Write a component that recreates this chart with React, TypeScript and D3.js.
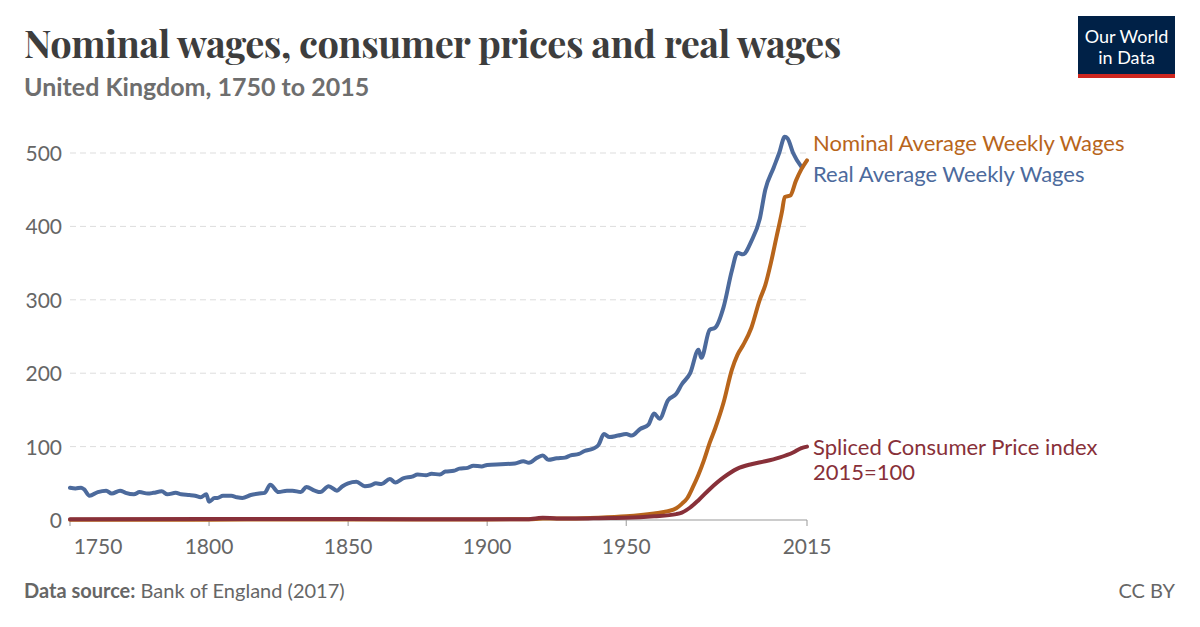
import * as d3 from "d3";

const realYears = [1750,1752,1754,1755,1757,1760,1763,1765,1768,1770,1773,1775,1778,1780,1783,1785,1788,1790,1793,1795,1797,1799,1800,1802,1803,1805,1808,1810,1812,1815,1818,1820,1822,1825,1828,1830,1833,1835,1838,1840,1843,1846,1848,1850,1853,1856,1858,1860,1862,1865,1867,1870,1873,1875,1878,1880,1883,1885,1888,1890,1893,1895,1898,1900,1905,1910,1913,1915,1918,1920,1922,1925,1928,1930,1933,1935,1938,1940,1942,1944,1947,1950,1952,1955,1958,1960,1962,1965,1968,1970,1973,1976,1977,1980,1982,1985,1988,1990,1992,1995,1998,2000,2003,2005,2007,2008,2010,2013];
const realValues = [44,43,44,42,33,38,40,36,40,37,35,38,36,37,39,35,37,35,34,33,31,35,25,30,30,33,33,31,30,34,36,37,48,38,40,40,38,45,40,38,46,40,46,50,52,46,47,50,49,56,51,57,59,62,61,63,62,66,67,70,71,74,73,75,76,77,80,78,85,88,82,84,85,88,90,94,97,102,117,113,115,117,115,124,130,145,138,163,172,185,200,232,221,259,262,290,340,364,362,380,410,450,480,500,522,520,500,481];

const nomYears = [1750,1800,1850,1900,1915,1920,1930,1940,1950,1960,1965,1968,1970,1972,1974,1976,1978,1980,1982,1985,1988,1990,1992,1995,1998,2000,2002,2004,2006,2007,2009,2011,2013,2015];
const nomValues = [0.3,0.5,0.6,0.8,1,2,2,3,5,9,12,16,22,30,45,62,82,105,125,160,205,225,238,262,300,320,350,385,420,440,442,462,478,490];

const cpiYears = [1750,1800,1850,1900,1914,1918,1920,1925,1935,1940,1950,1960,1968,1970,1973,1976,1980,1985,1990,1995,2000,2005,2010,2013,2015];
const cpiValues = [1,1.5,1.2,1,1,2.5,3,2.2,2,2.5,3,5,8,10,17,27,42,58,70,76,80,85,92,98,100];

const yTicks = [0, 100, 200, 300, 400, 500];
const xTicks = [1750, 1800, 1850, 1900, 1950, 2015];

const W = 1200, H = 627;
const x = d3.scaleLinear().domain([1750, 2015]).range([70, 807]);
const y = d3.scaleLinear().domain([0, 500]).range([520, 153]);
const sans = "Lato, 'Noto Sans', sans-serif";

const series = [
  { name: "real", years: realYears, values: realValues, color: "#4c6a9c" },
  { name: "nom", years: nomYears, values: nomValues, color: "#b8651b" },
  { name: "cpi", years: cpiYears, values: cpiValues, color: "#883039" },
];

export default function App() {
  const line = (ys: number[], vs: number[]) =>
    d3.line<number>().x((d) => x(d)).y((_, i) => y(vs[i])).curve(d3.curveMonotoneX)(ys) || "";
  return (
    <svg width={W} height={H} style={{ position: "absolute", left: 0, top: 0, background: "#fff" }}>
      <text x={24} y={58} fontFamily="'Playfair Display', 'DejaVu Serif', serif" fontWeight="bold" fontSize={38} fill="#3d3d3d" letterSpacing={-0.5}>
        Nominal wages, consumer prices and real wages
      </text>
      <text x={24} y={96} fontFamily={sans} fontWeight="bold" fontSize={25} fill="#6e6e6e">United Kingdom, 1750 to 2015</text>
      <rect x={1078} y={16} width={97} height={58} fill="#002147" />
      <rect x={1078} y={74} width={97} height={4} fill="#ce261e" />
      <text x={1126.5} y={43} textAnchor="middle" fontFamily={sans} fontSize={18} fill="#fff">Our World</text>
      <text x={1126.5} y={64} textAnchor="middle" fontFamily={sans} fontSize={18} fill="#fff">in Data</text>
      {yTicks.map((t) => (
        <g key={t}>
          {t > 0 && <line x1={70} x2={807} y1={y(t)} y2={y(t)} stroke="#ddd" strokeDasharray="6,4" />}
          <text x={62} y={y(t) + 8} textAnchor="end" fontFamily={sans} fontSize={21} fill="#666">{t}</text>
        </g>
      ))}
      <line x1={70} x2={807} y1={520} y2={520} stroke="#999" />
      {xTicks.map((t) => (
        <g key={t}>
          <line x1={x(t)} x2={x(t)} y1={520} y2={526} stroke="#999" />
          <text x={t === 1750 ? x(t) + 28 : x(t)} y={554} textAnchor="middle" fontFamily={sans} fontSize={21} fill="#666">{t}</text>
        </g>
      ))}
      {series.map((s) => (
        <path key={s.name} d={line(s.years, s.values)} fill="none" stroke={s.color} strokeWidth={4} strokeLinejoin="round" strokeLinecap="round" />
      ))}
      <text x={813} y={151} fontFamily={sans} fontSize={22} fill="#b8651b">Nominal Average Weekly Wages</text>
      <text x={813} y={182} fontFamily={sans} fontSize={22} fill="#4c6a9c">Real Average Weekly Wages</text>
      <text x={813} y={455} fontFamily={sans} fontSize={22} fill="#883039">Spliced Consumer Price index</text>
      <text x={813} y={480} fontFamily={sans} fontSize={22} fill="#883039">2015=100</text>
      <text x={24} y={598} fontFamily={sans} fontSize={20} fill="#666"><tspan fontWeight="bold">Data source:</tspan> Bank of England (2017)</text>
      <text x={1175} y={598} textAnchor="end" fontFamily={sans} fontSize={20} fill="#666">CC BY</text>
    </svg>
  );
}
